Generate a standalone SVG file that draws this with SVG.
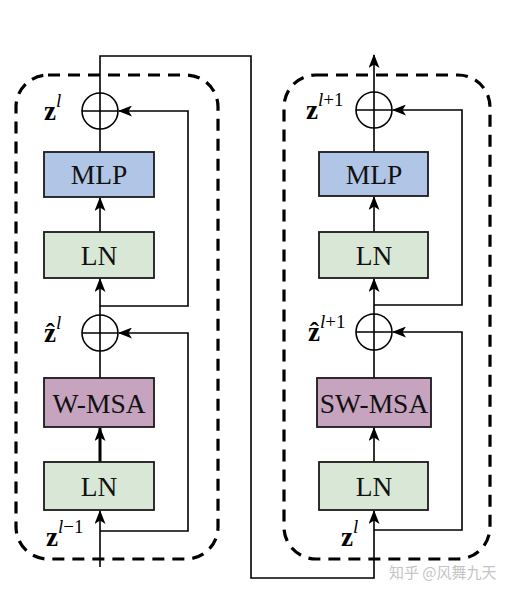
<svg xmlns="http://www.w3.org/2000/svg" width="514" height="592" viewBox="0 0 514 592">
<defs>
<marker id="ah" viewBox="0 0 14 11" refX="13" refY="5.5" markerWidth="14" markerHeight="11" markerUnits="userSpaceOnUse" orient="auto">
<path d="M0,0 L14,5.5 L0,11 L3.5,5.5 z" fill="#000"/>
</marker>
<style>
.blk{fill:none;stroke:#000;stroke-width:3.2;stroke-dasharray:12,8}
.w{fill:none;stroke:#000;stroke-width:1.6}
.wa{fill:none;stroke:#000;stroke-width:1.6;marker-end:url(#ah)}
.box{stroke:#1a1a1a;stroke-width:1.8}
.mlp{fill:#b1c5e6}
.ln{fill:#d9e8d6}
.msa{fill:#c6a3bf}
.t{font-family:"Liberation Serif",serif;font-size:27.5px;fill:#111;text-anchor:middle}
.m{font-family:"Liberation Serif",serif;fill:#000}
.circ{fill:none;stroke:#000;stroke-width:1.6}
</style>
</defs>
<rect class="blk" x="16" y="75" width="202" height="484" rx="32"/>
<rect class="blk" x="284" y="75" width="206" height="484" rx="32"/>
<g id="connectors">
<path class="wa" d="M100,567 V511"/>
<path class="wa" d="M100,462 V428" style="stroke-width:3"/>
<path class="w" d="M100,378 V351"/>
<path class="wa" d="M100,315 V279"/>
<path class="wa" d="M100,232 V198"/>
<path class="w" d="M100,152 V129"/>
<path class="wa" d="M100,93 V56 H251 V578 H374 V511"/>
<path class="wa" d="M100,531 H188 V333 H119"/>
<path class="wa" d="M100,306 H188 V111 H119"/>
<path class="wa" d="M374,462 V428"/>
<path class="w" d="M374,378 V350"/>
<path class="wa" d="M374,314 V279"/>
<path class="wa" d="M374,232 V197"/>
<path class="w" d="M374,152 V128"/>
<path class="wa" d="M374,92 V55"/>
<path class="wa" d="M374,530 H462 V332 H393"/>
<path class="wa" d="M374,305 H462 V110 H393"/>
</g>
<g id="add1"><circle class="circ" cx="100" cy="111" r="18"/><path class="w" d="M82,111 H118 M100,93 V129"/></g>
<g id="add2"><circle class="circ" cx="100" cy="333" r="18"/><path class="w" d="M82,333 H118 M100,315 V351"/></g>
<g id="add3"><circle class="circ" cx="374" cy="110" r="18"/><path class="w" d="M356,110 H392 M374,92 V128"/></g>
<g id="add4"><circle class="circ" cx="374" cy="332" r="18"/><path class="w" d="M356,332 H392 M374,314 V350"/></g>
<g id="mlp1"><rect class="box mlp" x="44" y="152" width="110" height="45"/><text class="t" x="99" y="184">MLP</text></g>
<g id="ln1"><rect class="box ln" x="44" y="232" width="110" height="46"/><text class="t" x="99" y="265">LN</text></g>
<g id="wmsa"><rect class="box msa" x="44" y="378" width="110" height="49"/><text class="t" x="99" y="413">W-MSA</text></g>
<g id="ln2"><rect class="box ln" x="44" y="462" width="110" height="48"/><text class="t" x="99" y="496">LN</text></g>
<g id="mlp2"><rect class="box mlp" x="319" y="152" width="109" height="44"/><text class="t" x="374" y="184">MLP</text></g>
<g id="ln3"><rect class="box ln" x="319" y="232" width="109" height="46"/><text class="t" x="374" y="265">LN</text></g>
<g id="swmsa"><rect class="box msa" x="317" y="378" width="114" height="49"/><text class="t" x="374" y="413">SW-MSA</text></g>
<g id="ln4"><rect class="box ln" x="319" y="462" width="109" height="48"/><text class="t" x="374" y="496">LN</text></g>
<g id="labels">
<text class="m" x="44" y="120" font-size="27" font-weight="bold">z<tspan font-weight="normal" font-style="italic" font-size="19" dy="-13">l</tspan></text>
<text class="m" x="44" y="342" font-size="27" font-weight="bold">ẑ<tspan font-weight="normal" font-style="italic" font-size="19" dy="-13">l</tspan></text>
<text class="m" x="46" y="546" font-size="27" font-weight="bold">z<tspan font-weight="normal" font-style="italic" font-size="19" dy="-13">l</tspan><tspan font-weight="normal" font-size="19">−1</tspan></text>
<text class="m" x="306" y="119" font-size="27" font-weight="bold">z<tspan font-weight="normal" font-style="italic" font-size="19" dy="-13">l</tspan><tspan font-weight="normal" font-size="19">+1</tspan></text>
<text class="m" x="308" y="341" font-size="27" font-weight="bold">ẑ<tspan font-weight="normal" font-style="italic" font-size="19" dy="-13">l</tspan><tspan font-weight="normal" font-size="19">+1</tspan></text>
<text class="m" x="341" y="546" font-size="27" font-weight="bold">z<tspan font-weight="normal" font-style="italic" font-size="19" dy="-13">l</tspan></text>
</g>
<text x="389" y="578" font-family="'Noto Sans CJK SC',sans-serif" font-size="15" fill="#c4c4c4">知乎 @风舞九天</text>
</svg>
